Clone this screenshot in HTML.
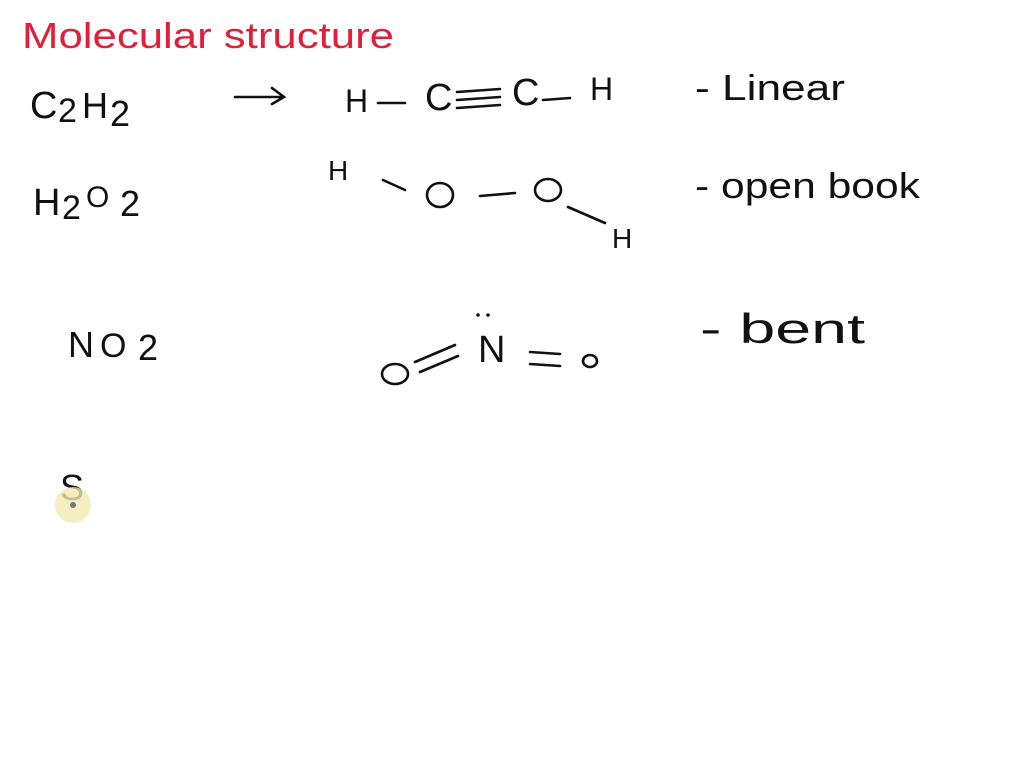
<!DOCTYPE html>
<html><head><meta charset="utf-8"><style>
html,body{margin:0;padding:0;background:#fff;width:1024px;height:768px;overflow:hidden}
svg text{font-family:"Liberation Sans",sans-serif;}
</style></head><body>
<svg width="1024" height="768" viewBox="0 0 1024 768" xmlns="http://www.w3.org/2000/svg">
<rect width="1024" height="768" fill="#fff"/>
<text x="22" y="48" font-size="36" fill="#e0203a" textLength="372" lengthAdjust="spacingAndGlyphs">Molecular structure</text>
<g fill="#111" stroke="none">
<text x="30" y="118" font-size="38">C</text><text x="58" y="122" font-size="34">2</text>
<text x="82" y="118" font-size="36">H</text><text x="110" y="126" font-size="36">2</text>
<text x="33" y="215" font-size="38">H</text><text x="62" y="219" font-size="34">2</text>
<text x="86" y="207" font-size="30">O</text><text x="120" y="216" font-size="36">2</text>
<text x="68" y="357" font-size="36">N</text><text x="100" y="357" font-size="34">O</text><text x="138" y="360" font-size="36">2</text>
<text x="60" y="500" font-size="36">S</text>
<text x="345" y="112" font-size="32">H</text>
<text x="425" y="110" font-size="38">C</text>
<text x="512" y="105" font-size="38">C</text>
<text x="590" y="100" font-size="32">H</text>
<text x="328" y="180" font-size="28">H</text>
<text x="612" y="248" font-size="28">H</text>
<text x="478" y="362" font-size="38">N</text>
<text x="695" y="100" font-size="36" textLength="150" lengthAdjust="spacingAndGlyphs">- Linear</text>
<text x="695" y="198" font-size="36" textLength="225" lengthAdjust="spacingAndGlyphs">- open book</text>
<text x="700" y="343" font-size="42" textLength="165" lengthAdjust="spacingAndGlyphs">- bent</text>
</g>
<g stroke="#111" stroke-width="2.6" fill="none" stroke-linecap="round">
<path d="M235 97 L282 97 M272 88 L284 97 L272 104"/>
<path d="M378 103 L405 103"/>
<path d="M457 92 L500 89 M457 100 L500 97 M457 108 L500 105"/>
<path d="M543 100 L570 98"/>
<path d="M383 180 L405 190"/>
<ellipse cx="440" cy="195" rx="13" ry="12"/>
<path d="M480 196 L515 193"/>
<ellipse cx="548" cy="190" rx="13" ry="11"/>
<path d="M568 207 L605 223"/>
<ellipse cx="395" cy="374" rx="13" ry="10"/>
<path d="M415 362 L455 345 M420 372 L458 356"/>
<path d="M530 352 L560 354 M530 364 L560 366"/>
<ellipse cx="590" cy="361" rx="7" ry="6"/>
</g>
<circle cx="478" cy="315" r="1.8" fill="#111"/><circle cx="488" cy="315" r="1.8" fill="#111"/>
<circle cx="73" cy="505" r="18" fill="#f3eab0" opacity="0.8"/>
<circle cx="73" cy="505" r="3" fill="#777"/>
</svg>
</body></html>
